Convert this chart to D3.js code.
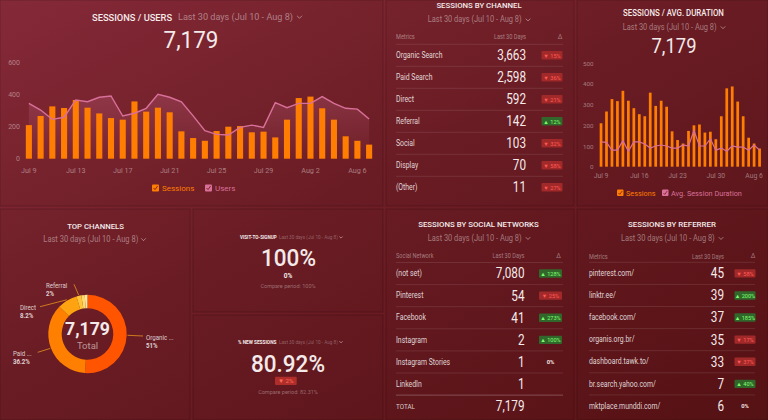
<!DOCTYPE html>
<html><head><meta charset="utf-8">
<script src="https://cdn.jsdelivr.net/npm/d3@7"></script>
<style>html,body{margin:0;padding:0;background:#6a1a20;overflow:hidden}svg{display:block;font-family:Roboto,"Noto Sans",sans-serif}</style>
</head><body><svg id="c" width="768" height="420"></svg>
<script>
// ---------- DATA ----------
const dates = ["Jul 9","Jul 10","Jul 11","Jul 12","Jul 13","Jul 14","Jul 15","Jul 16","Jul 17","Jul 18","Jul 19","Jul 20","Jul 21","Jul 22","Jul 23","Jul 24","Jul 25","Jul 26","Jul 27","Jul 28","Jul 29","Jul 30","Jul 31","Aug 1","Aug 2","Aug 3","Aug 4","Aug 5","Aug 6","Aug 7"];
const sessions = [210,267,327,317,367,319,283,254,244,358,294,319,290,171,129,112,173,200,204,165,169,133,244,379,388,315,244,140,112,88];
const users = [346,304,246,259,367,356,384,392,267,284,315,402,384,356,268,175,152,148,196,210,196,350,319,346,346,388,346,315,310,248];
const avgDuration = [120,118,80,80,125,75,120,120,110,90,100,105,100,90,90,105,100,175,100,100,135,80,90,75,100,95,95,80,105,80];
const sessionsTicks1 = [0,200,400,600];
const sessionsTicks2 = [0,100,200,300,400,500];
const xTickLabels1 = ["Jul 9","Jul 13","Jul 17","Jul 21","Jul 25","Jul 29","Aug 2","Aug 6"];
const xTickLabels2 = ["Jul 9","Jul 16","Jul 23","Jul 30","Aug 6"];

const channelNames = ["Organic Search","Paid Search","Direct","Referral","Social","Display","(Other)"];
const channelValues = [3663,2598,592,142,103,70,11];
const channelDeltas = [-15,-36,-21,12,-32,-58,-27];

const donutNames = ["Organic ...","Paid ...","Direct","Referral","Social","Display","(Other)"];
const donutValues = [3663,2598,592,142,103,70,11];
const donutPct = ["51%","36.2%","8.2%","2%","","",""];

const socialNames = ["(not set)","Pinterest","Facebook","Instagram","Instagram Stories","LinkedIn"];
const socialValues = [7080,54,41,2,1,1];
const socialDeltas = [128,-25,273,100,0,null];

const refNames = ["pinterest.com/","linktr.ee/","facebook.com/","organis.org.br/","dashboard.tawk.to/","br.search.yahoo.com/","mktplace.munddi.com/"];
const refValues = [45,39,37,35,33,7,6];
const refDeltas = [-58,200,185,-17,-37,40,0];

const totalSessions = 7179;
const visitToSignup = "100%", visitDelta = "0%", visitCompare = "Compare period: 100%";
const newSessions = "80.92%", newSessionsDelta = -2, newCompare = "Compare period: 82.31%";
const periodLabel = "Last 30 days (Jul 10 - Aug 8)";

// ---------- DRAW ----------
const svg = d3.select("#c");
const defs = svg.append("defs");
const bg = defs.append("linearGradient").attr("id","bg").attr("x1","0").attr("y1","0").attr("x2","1").attr("y2","1");
bg.append("stop").attr("offset","0").attr("stop-color","#8c2c3b");
bg.append("stop").attr("offset","0.45").attr("stop-color","#701e26");
bg.append("stop").attr("offset","1").attr("stop-color","#5a1316");
svg.append("rect").attr("width",768).attr("height",420).attr("fill","url(#bg)");

const panels = [[0,0,383,206],[386,0,188,206],[577,0,191,206],[0,209,190,211],[193,209,190,103],[193,315,190,105],[386,209,188,211],[577,209,191,211]];
svg.selectAll("rect.panel").data(panels).join("rect").attr("class","panel")
  .attr("x",d=>d[0]).attr("y",d=>d[1]).attr("width",d=>d[2]).attr("height",d=>d[3])
  .attr("fill","rgba(0,0,0,0.05)").attr("stroke","rgba(0,0,0,0.18)").attr("stroke-width",1);

const WHITE="#f4eaea", GREY="rgba(255,255,255,0.42)", ORANGE="#ff7d00", PINK="#d9709a";
function txt(x,y,s,o={}){
  const t = svg.append("text").attr("x",x).attr("y",y).attr("dominant-baseline","central")
    .attr("text-anchor",o.anchor||"start").attr("font-size",o.size||8).attr("font-weight",o.weight||400)
    .attr("fill",o.fill||WHITE).attr("letter-spacing",o.ls||0).text(s);
  let sx = o.sx;
  if(o.w){ const bw=t.node().getBBox().width; sx = o.w/bw; }
  if(sx && Math.abs(sx-1)>0.01) t.attr("transform",`translate(${x},0) scale(${sx},1) translate(${-x},0)`);
  return t;
}
function chevron(x,y,s,col){
  svg.append("path").attr("d",`M${x-s},${y-s/2}L${x},${y+s/2}L${x+s},${y-s/2}`).attr("fill","none").attr("stroke",col||GREY).attr("stroke-width",1);
}
function subtitle(x,y,size,w,anchor,chevX){
  txt(x,y,periodLabel,{size:size,fill:GREY,anchor:anchor||"middle",w:w});
  chevron(chevX, y, size*0.28);
}

// Panel 1: Sessions / Users
txt(92,17,"SESSIONS / USERS",{size:9.3,weight:500,w:81});
subtitle(178,17,9,115,"start",299.5);
txt(191,40.5,d3.format(",")(totalSessions),{size:23.5,anchor:"middle",w:55});
{
  const x = d3.scaleBand().domain(d3.range(sessions.length)).range([23,375]).paddingInner(0.48).paddingOuter(0.24);
  const y = d3.scaleLinear().domain([0,600]).range([158.7,62.7]);
  const g = svg.append("g");
  const ag = defs.append("linearGradient").attr("id","ag").attr("x1",0).attr("y1",0).attr("x2",0).attr("y2",1);
  ag.append("stop").attr("offset",0).attr("stop-color","#e07aa0").attr("stop-opacity",0.22);
  ag.append("stop").attr("offset",1).attr("stop-color","#e07aa0").attr("stop-opacity",0.02);
  const cx = i=>x(i)+x.bandwidth()/2;
  g.append("path").datum(users).attr("fill","url(#ag)")
    .attr("d",d3.area().x((d,i)=>cx(i)).y0(y(0)).y1(d=>y(d)));
  g.selectAll("rect").data(sessions).join("rect").attr("x",(d,i)=>x(i)).attr("width",x.bandwidth())
    .attr("y",d=>y(d)).attr("height",d=>y(0)-y(d)).attr("fill",ORANGE);
  g.append("path").datum(users).attr("fill","none").attr("stroke",PINK).attr("stroke-width",1.4)
    .attr("d",d3.line().x((d,i)=>cx(i)).y(d=>y(d)));
  const ya = g.append("g").attr("transform","translate(20,0)").call(d3.axisLeft(y).tickValues(sessionsTicks1).tickSize(0).tickPadding(0));
  ya.select(".domain").remove();
  ya.selectAll("text").attr("fill",GREY).attr("font-size",7).attr("font-family","Roboto");
  const xa = g.append("g").attr("transform","translate(0,168)").call(d3.axisBottom(x).tickValues(d3.range(0,30).filter(i=>xTickLabels1.includes(dates[i]))).tickFormat(i=>dates[i]).tickSize(0).tickPadding(0));
  xa.select(".domain").remove();
  xa.selectAll("text").attr("fill",GREY).attr("font-size",7.2).attr("font-family","Roboto");
  const leg=[["Sessions",ORANGE,152],["Users",PINK,205]];
  leg.forEach(([n,c,lx])=>{
    g.append("rect").attr("x",lx).attr("y",184.5).attr("width",7).attr("height",7).attr("rx",1).attr("fill",c);
    g.append("path").attr("d",`M${lx+1.6},${188}L${lx+3},${189.6}L${lx+5.6},${186}`).attr("stroke","#7a2020").attr("fill","none").attr("stroke-width",0.9);
    txt(lx+10,188.5,n,{size:8,fill:c});
  });
}

// Panel 3: Sessions / Avg Duration
txt(673.5,13.5,"SESSIONS / AVG. DURATION",{size:8.2,weight:500,anchor:"middle",w:101});
subtitle(669.7,27.5,8.2,94,"middle",723);
txt(674,46.5,d3.format(",")(totalSessions),{size:19.5,anchor:"middle",w:45});
{
  const x = d3.scaleBand().domain(d3.range(sessions.length)).range([598.3,762.3]).paddingInner(0.5).paddingOuter(0.25);
  const y = d3.scaleLinear().domain([0,500]).range([166.7,63.3]);
  const g = svg.append("g");
  const cx = i=>x(i)+x.bandwidth()/2;
  g.selectAll("rect").data(sessions).join("rect").attr("x",(d,i)=>x(i)).attr("width",x.bandwidth())
    .attr("y",d=>y(d)).attr("height",d=>y(0)-y(d)).attr("fill",ORANGE);
  g.append("path").datum(avgDuration).attr("fill","none").attr("stroke",PINK).attr("stroke-width",1.2)
    .attr("d",d3.line().x((d,i)=>cx(i)).y(d=>y(d)));
  const ya = g.append("g").attr("transform","translate(593.5,0)").call(d3.axisLeft(y).tickValues(sessionsTicks2).tickSize(0).tickPadding(0));
  ya.select(".domain").remove();
  ya.selectAll("text").attr("fill",GREY).attr("font-size",6.2).attr("font-family","Roboto");
  const xa = g.append("g").attr("transform","translate(0,173)").call(d3.axisBottom(x).tickValues(d3.range(0,30).filter(i=>xTickLabels2.includes(dates[i]))).tickFormat(i=>dates[i]).tickSize(0).tickPadding(0));
  xa.select(".domain").remove();
  xa.selectAll("text").attr("fill",GREY).attr("font-size",6.8).attr("font-family","Roboto");
  const leg=[["Sessions",ORANGE,617],["Avg. Session Duration",PINK,662]];
  leg.forEach(([n,c,lx])=>{
    g.append("rect").attr("x",lx).attr("y",189.5).attr("width",6.5).attr("height",6.5).attr("rx",1).attr("fill",c);
    g.append("path").attr("d",`M${lx+1.5},${193}L${lx+2.8},${194.4}L${lx+5.2},${191}`).attr("stroke","#7a2020").attr("fill","none").attr("stroke-width",0.8);
    txt(lx+9,193,n,{size:7.3,fill:c});
  });
}

// Tables
function badge(cx,cy,v,w){
  if(v===null) return;
  if(v===0){ txt(cx,cy,"0%",{size:5.8,weight:700,anchor:"middle",fill:"#f0e0e0"}); return; }
  const up=v>0;
  svg.append("rect").attr("x",cx-w/2).attr("y",cy-4.2).attr("width",w).attr("height",8.4).attr("rx",1)
    .attr("fill",up?"#2f6b2c":"#a52a2a").attr("opacity",0.95);
  txt(cx,cy+0.3,(up?"▲ ":"▼ ")+Math.abs(v)+"%",{size:5.6,anchor:"middle",fill:up?"#7dff6b":"#ff5a55"});
}
function table(o){
  txt(o.cx,o.titleY,o.title,{size:8,weight:500,anchor:"middle",w:o.tw});
  subtitle(o.scx,o.titleY+14.3,8.2,94,"middle",o.chevX);
  txt(o.x0,o.headY,o.h0,{size:6.6,fill:GREY,sx:0.85});
  txt(o.xVal,o.headY,"Last 30 Days",{size:6.6,fill:GREY,anchor:"end",sx:0.85});
  txt(o.xDelta+8,o.headY,"Δ",{size:6.6,fill:GREY,anchor:"middle"});
  const y = d3.scaleBand().domain(d3.range(o.names.length)).range([o.rowTop,o.rowTop+o.step*o.names.length]);
  o.names.forEach((n,i)=>{
    svg.append("line").attr("x1",o.x0).attr("x2",o.x1).attr("y1",y(i)).attr("y2",y(i)).attr("stroke","rgba(255,255,255,0.1)");
    const cy=y(i)+o.step/2;
    txt(o.x0,cy,n,{size:8.4,fill:"rgba(255,255,255,0.82)",sx:0.82});
    txt(o.xVal,cy,d3.format(",")(o.values[i]),{size:14,anchor:"end",sx:0.84});
    badge(o.xDelta,cy,o.deltas[i],o.bw);
  });
  if(o.total){
    const ty=o.rowTop+o.step*o.names.length;
    svg.append("line").attr("x1",o.x0).attr("x2",o.x1).attr("y1",ty).attr("y2",ty).attr("stroke","rgba(255,255,255,0.2)").attr("stroke-width",1.2);
    txt(o.x0,ty+11.5,"TOTAL",{size:7.4,fill:"rgba(255,255,255,0.78)",sx:0.85});
    txt(o.xVal,ty+11.5,d3.format(",")(o.total),{size:14,anchor:"end",sx:0.84});
  }
}
table({cx:479,titleY:5.5,title:"SESSIONS BY CHANNEL",tw:86,scx:474.7,chevX:528,h0:"Metrics",headY:36.7,x0:396,x1:563,xVal:526,xDelta:552,bw:21,
  rowTop:44.3,step:22,names:channelNames,values:channelValues,deltas:channelDeltas});
table({cx:478.5,titleY:224,title:"SESSIONS BY SOCIAL NETWORKS",tw:121,scx:474.7,chevX:528,h0:"Social Network",headY:255.7,x0:396,x1:563,xVal:524.5,xDelta:550.5,bw:23,
  rowTop:262.5,step:22.1,names:socialNames,values:socialValues,deltas:socialDeltas,total:totalSessions});
table({cx:672,titleY:224,title:"SESSIONS BY REFERRER",tw:88,scx:667.8,chevX:721,h0:"Metrics",headY:256,x0:589,x1:755,xVal:724,xDelta:745,bw:21,
  rowTop:262.3,step:22.1,names:refNames,values:refValues,deltas:refDeltas});

// Panel 4: Top channels donut
txt(95.5,226,"TOP CHANNELS",{size:8,weight:500,anchor:"middle",w:57});
subtitle(90.8,239.5,8.2,95,"middle",143.5);
{
  const cx=87.5, cy=334;
  const colors = d3.scaleOrdinal().domain(donutNames).range(["#ff5500","#ff8000","#ffa311","#ffc43a","#ffd96a","#ffe89a","#fff2c8"]);
  const pie = d3.pie().sort(null).value(d=>d)(donutValues);
  const arc = d3.arc().innerRadius(25.8).outerRadius(39.2);
  const g = svg.append("g").attr("transform",`translate(${cx},${cy})`);
  g.selectAll("path").data(pie).join("path").attr("d",arc).attr("fill",(d,i)=>colors(donutNames[i]));
  txt(cx,328,d3.format(",")(totalSessions),{size:19,weight:700,anchor:"middle",w:45});
  txt(cx,345.5,"Total",{size:9.5,anchor:"middle",fill:"rgba(255,255,255,0.55)"});
  const labelEnds = [[143,336],[37.7,352.3],[40,306.7],[74,284.3]];
  const labelText = [[146,338.3],[13,354],[20,307.7],[46,285.7]];
  [0,1,2,3].forEach(i=>{
    const a=(pie[i].startAngle+pie[i].endAngle)/2;
    const sx=cx+40*Math.sin(a), sy=cy-40*Math.cos(a);
    svg.append("line").attr("x1",sx).attr("y1",sy).attr("x2",labelEnds[i][0]).attr("y2",labelEnds[i][1]).attr("stroke","#e8901e").attr("stroke-width",0.8);
    txt(labelText[i][0],labelText[i][1],donutNames[i],{size:7,fill:"rgba(255,255,255,0.78)",sx:0.88});
    txt(labelText[i][0],labelText[i][1]+8,donutPct[i],{size:7,weight:700,fill:"rgba(255,255,255,0.8)",sx:0.88});
  });
}

// Panel 5 & 6: KPIs
function kpiHeader(x,y,title,tw){
  txt(x,y,title,{size:5.4,weight:700,w:tw});
  txt(x+tw+2,y,periodLabel,{size:5.4,fill:"rgba(255,255,255,0.3)",w:59});
  chevron(x+tw+2+59+3,y,1.6,"rgba(255,255,255,0.45)");
}
kpiHeader(240,237.3,"VISIT-TO-SIGNUP",37);
txt(288.5,258.5,visitToSignup,{size:23.5,weight:500,anchor:"middle",w:55});
txt(288,276,visitDelta,{size:6.5,weight:700,anchor:"middle"});
txt(288,285.7,visitCompare,{size:5.5,anchor:"middle",fill:"rgba(255,255,255,0.35)"});

kpiHeader(238,342,"% NEW SESSIONS",39);
txt(288,363.3,newSessions,{size:24.3,weight:500,anchor:"middle",w:74});
svg.append("rect").attr("x",275).attr("y",376.7).attr("width",21.7).attr("height",8.4).attr("rx",1).attr("fill","#b02e2a");
txt(285.8,381,"▼ "+Math.abs(newSessionsDelta)+"%",{size:6.2,anchor:"middle",fill:"#ff6a5a"});
txt(288,391.7,newCompare,{size:5.5,anchor:"middle",fill:"rgba(255,255,255,0.35)"});
</script></body></html>
